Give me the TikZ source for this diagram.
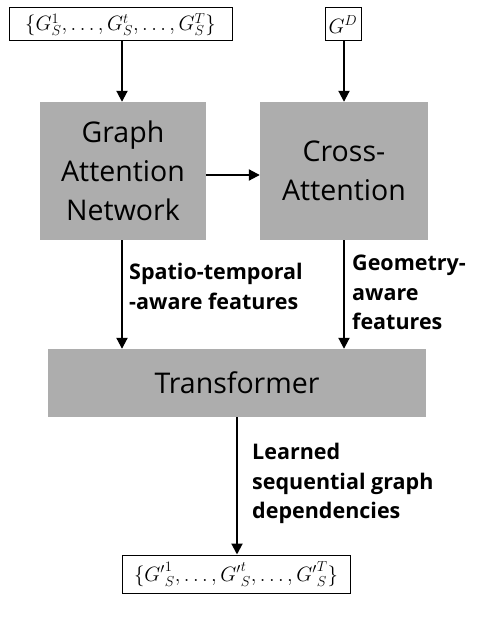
\documentclass[tikz,border=0pt]{standalone}
\usepackage{fontspec}
\setmainfont{Open Sans}
\usetikzlibrary{arrows.meta}
\begin{document}
\begin{tikzpicture}[x=1pt,y=-1pt,
  graybox/.style={fill=black!32,draw=none,inner sep=0pt,align=center,font=\fontsize{28.5}{39}\selectfont},
  mathbox/.style={draw=black,line width=1pt,inner sep=0pt,fill=white},
  arr/.style={line width=2pt,-{Triangle[length=11pt,width=11pt]}},
  lbl/.style={anchor=north west,align=left,inner sep=0pt,font=\fontsize{21.5}{29.5}\selectfont\bfseries}]
\useasboundingbox (0,0) rectangle (476,620);
\node[mathbox,minimum width=223pt,minimum height=33pt] (in1) at (120.5,24.5) {\fontsize{21}{24}\selectfont$\{G_S^1,\ldots,G_S^t,\ldots,G_S^T\}$};
\node[mathbox,minimum width=36pt,minimum height=33pt] (in2) at (343,24.5) {\fontsize{21}{24}\selectfont$G^D$};
\node[graybox,minimum width=166pt,minimum height=138pt] (gat) at (123,171) {Graph\\Attention\\Network};
\node[graybox,minimum width=168pt,minimum height=138pt] (ca) at (344,171) {Cross-\\Attention};
\node[graybox,minimum width=378pt,minimum height=68pt] (tr) at (237,383) {Transformer};
\node[mathbox,minimum width=228pt,minimum height=38pt] (out) at (236,574) {\fontsize{21}{24}\selectfont$\{{G'}_{S}^{1},\ldots,{G'}_{S}^{t},\ldots,{G'}_{S}^{T}\}$};
\draw[arr] (in1.south -| 122,0) -- (gat.north -| 122,0);
\draw[arr] (in2.south -| 344,0) -- (ca.north -| 344,0);
\draw[arr] (gat.east |- 0,175) -- (ca.west |- 0,175);
\draw[arr] (gat.south -| 122,0) -- (tr.north -| 122,0);
\draw[arr] (ca.south -| 344,0) -- (tr.north -| 344,0);
\draw[arr] (tr.south -| 237,0) -- (out.north -| 237,0);
\node[lbl] (l1) at (129,263) {Spatio-temporal\\-aware features};
\node[lbl] (l2) at (352,255) {Geometry-\\aware\\features};
\node[lbl] (l3) at (252,443) {Learned\\sequential graph\\dependencies};
\end{tikzpicture}
\end{document}
